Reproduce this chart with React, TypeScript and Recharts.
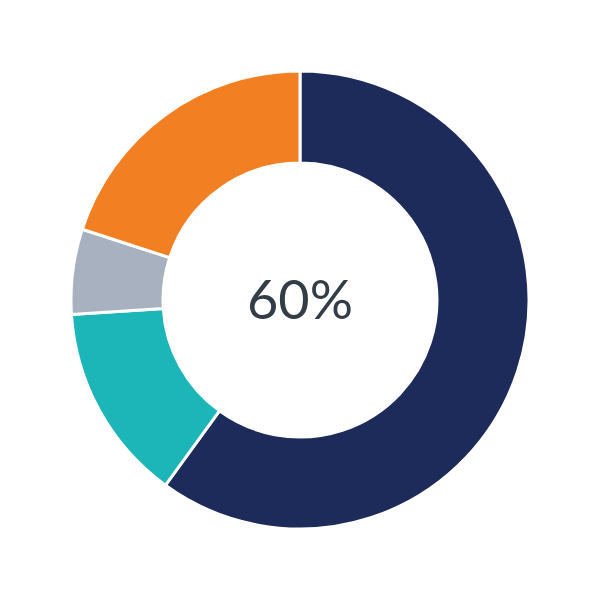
import React from "react";
import { PieChart, Pie, Cell } from "recharts";

const categories = ["Navy", "Teal", "Gray", "Orange"];
const values = [60, 14, 6, 20];
const colors = ["#1c2b5a", "#1cb5b8", "#a7b1c0", "#f27f22"];
const centerLabel = "60%";

const data = categories.map((name, i) => ({ name, value: values[i] }));

export default function App() {
  return (
    <div style={{ position: "absolute", left: 0, top: 0, width: 600, height: 600, background: "#fff" }}>
      <PieChart width={600} height={600} margin={{ top: 0, right: 0, bottom: 0, left: 0 }}>
        <Pie
          data={data}
          dataKey="value"
          nameKey="name"
          cx={300}
          cy={300}
          innerRadius={137}
          outerRadius={229}
          startAngle={90}
          endAngle={-270}
          stroke="#ffffff"
          strokeWidth={3}
          isAnimationActive={false}
        >
          {data.map((d, i) => (
            <Cell key={d.name} fill={colors[i]} />
          ))}
        </Pie>
        <text
          x={300}
          y={298}
          textAnchor="middle"
          dominantBaseline="central"
          fontFamily="Lato"
          fontWeight={400}
          fontSize={54}
          fill="#333d47"
        >
          {centerLabel}
        </text>
      </PieChart>
    </div>
  );
}
